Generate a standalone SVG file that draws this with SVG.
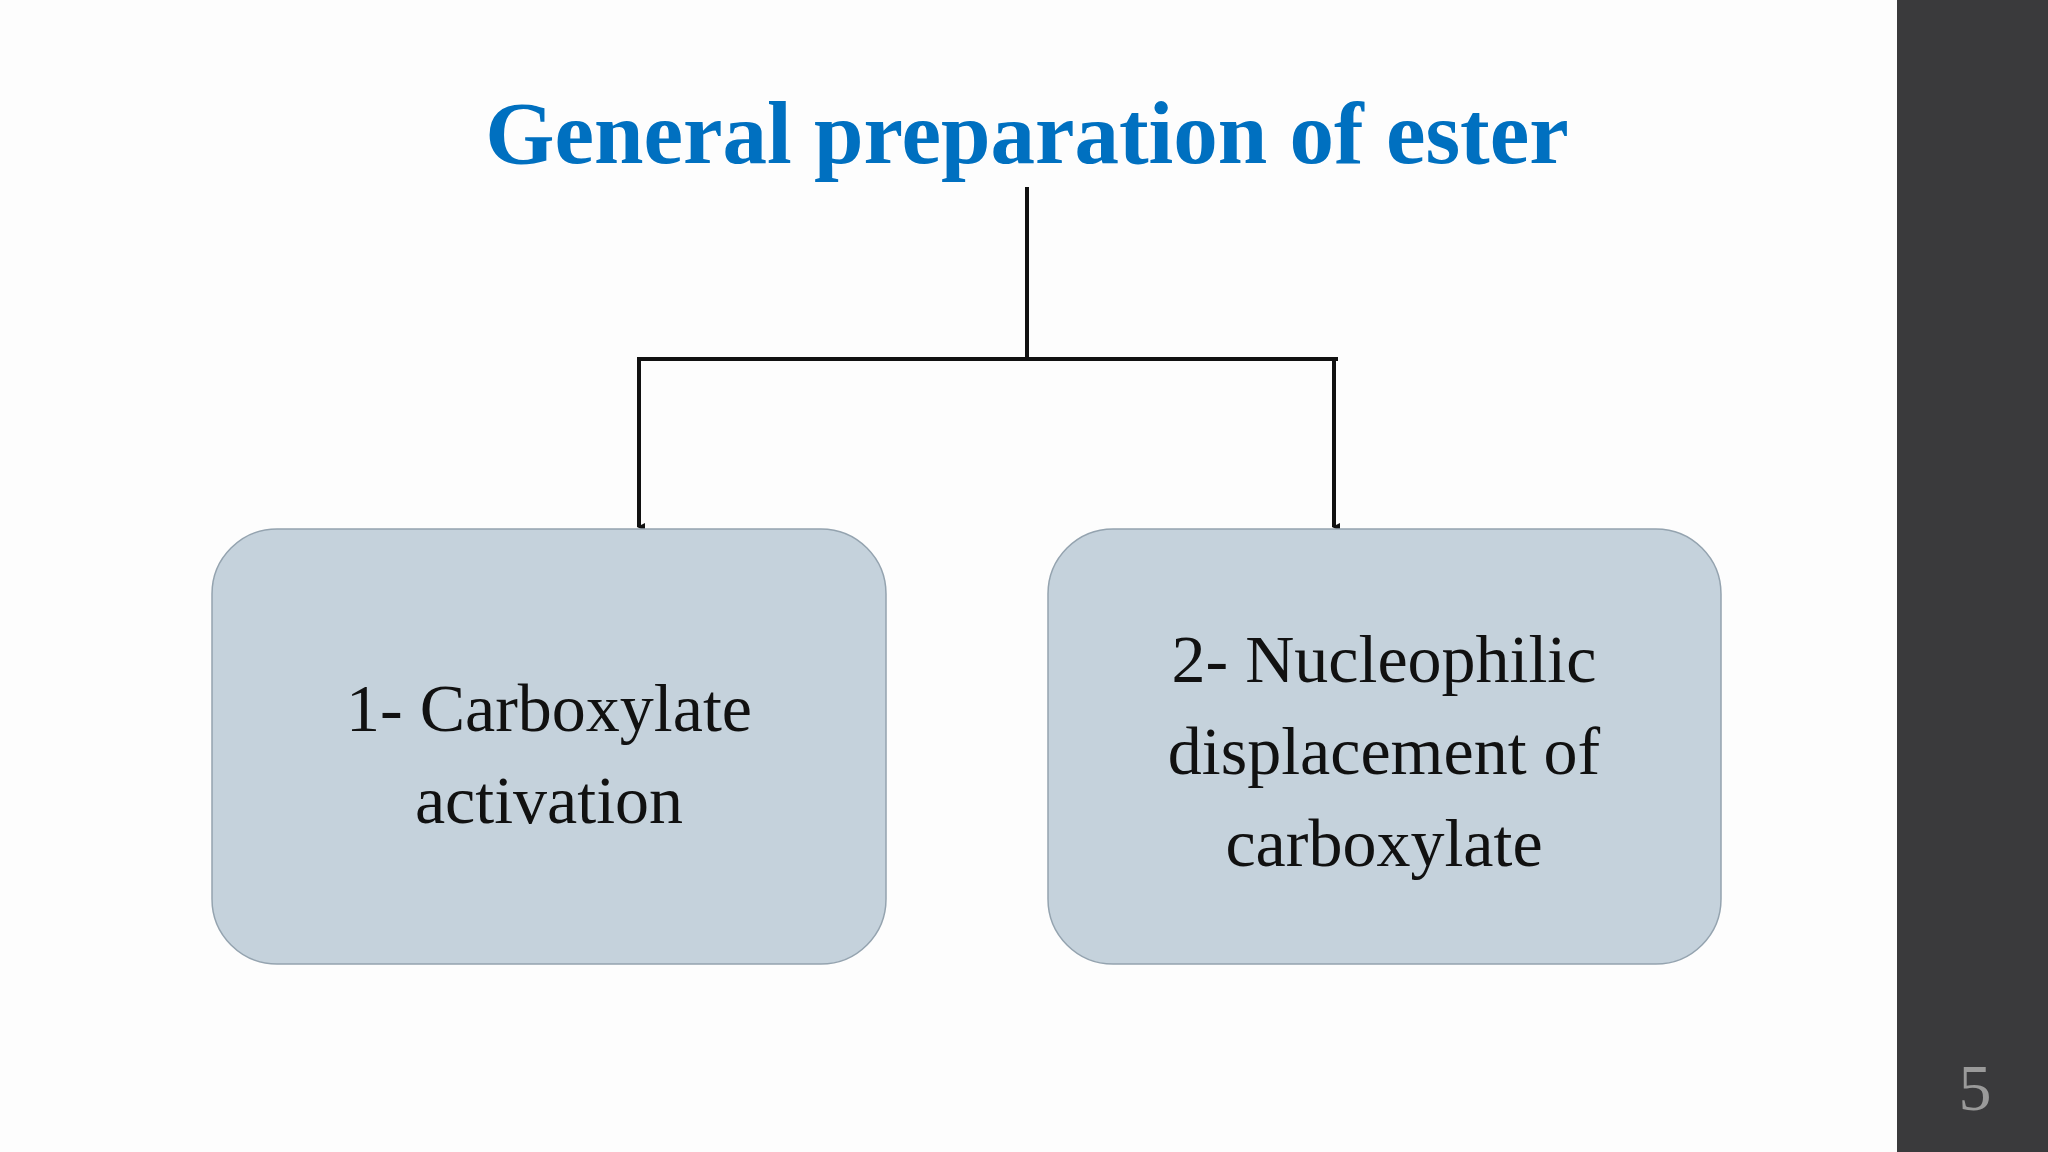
<svg xmlns="http://www.w3.org/2000/svg" width="2048" height="1152" viewBox="0 0 2048 1152">
<style>
.box{fill:#C5D2DC;stroke:#94A3AF;stroke-width:1.5}
.lbl{font-family:"Liberation Serif",serif;font-size:68px;fill:#111;text-anchor:middle}
.ln{stroke:#111;stroke-width:4;fill:none}
</style>
<defs><marker id="a" markerWidth="8" markerHeight="8" refX="4" refY="6" orient="auto" markerUnits="userSpaceOnUse"><path d="M0,0 L8,0 L4,8 z" fill="#111"/></marker></defs>
<rect width="2048" height="1152" fill="#fdfdfd"/>
<rect x="1897" y="0" width="151" height="1152" fill="#3a3a3c"/>
<text x="1975" y="1110" font-family="Liberation Serif,serif" font-size="66" fill="#9a9a9a" text-anchor="middle">5</text>
<g id="title"><text x="1027" y="163" font-family="Liberation Serif,serif" font-weight="bold" font-size="89" fill="#0070C0" text-anchor="middle">General preparation of ester</text></g>
<g id="connectors">
<path class="ln" d="M1027,187 V359 M637,359 H1338"/>
<path class="ln" d="M639,359 V527" marker-end="url(#a)"/>
<path class="ln" d="M1334,359 V527" marker-end="url(#a)"/>
</g>
<g id="n1"><rect class="box" x="212" y="529" width="674" height="435" rx="65"/>
<text class="lbl" x="549" y="731">1- Carboxylate</text><text class="lbl" x="549" y="823">activation</text></g>
<g id="n2"><rect class="box" x="1048" y="529" width="673" height="435" rx="65"/>
<text class="lbl" x="1384" y="682">2- Nucleophilic</text><text class="lbl" x="1384" y="774">displacement of</text><text class="lbl" x="1384" y="866">carboxylate</text></g>
</svg>
